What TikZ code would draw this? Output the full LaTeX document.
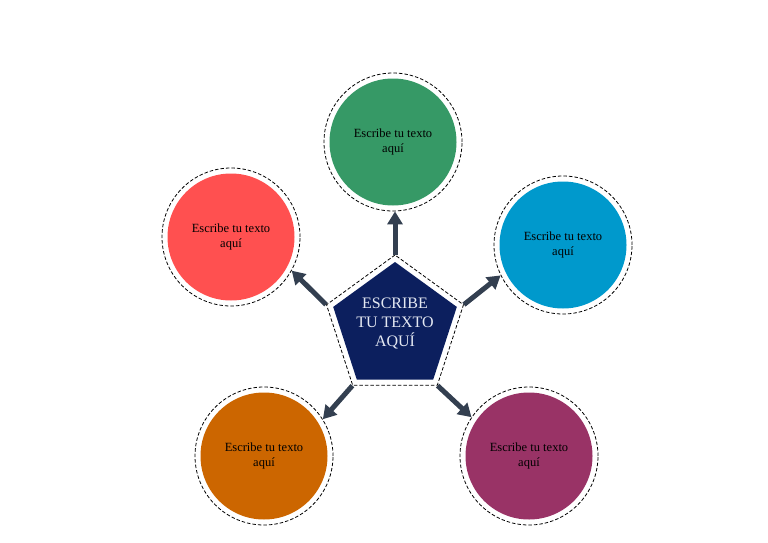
\documentclass[tikz,border=0pt]{standalone}
\usepackage{fontspec}
\setmainfont{Liberation Serif}
\usetikzlibrary{arrows.meta,shapes.geometric}
\definecolor{cgreen}{HTML}{369966}
\definecolor{cred}{HTML}{FF5050}
\definecolor{cblue}{HTML}{0099CC}
\definecolor{corange}{HTML}{CC6600}
\definecolor{cpurple}{HTML}{993366}
\definecolor{cnavy}{HTML}{0C1F5E}
\definecolor{carrow}{HTML}{333F50}
\definecolor{ctext}{HTML}{E4E8F2}
\tikzset{
  disc/.style={circle,minimum size=127pt,inner sep=0pt,draw=none,
    align=center,font=\fontsize{12.5}{14.5}\selectfont,text=black},
  ring/.style={circle,minimum size=138pt,inner sep=0pt,draw=black,
    line width=0.8pt,dash pattern=on 3.5pt off 2pt},
  pentring/.style={regular polygon,regular polygon sides=5,minimum size=144pt,
    inner sep=0pt,draw=black,line width=0.8pt,dash pattern=on 3.5pt off 2pt},
  pentfill/.style={regular polygon,regular polygon sides=5,minimum size=130pt,
    inner sep=0pt,fill=cnavy,draw=none},
  conn/.style={carrow,line width=5pt,-{Triangle[length=13pt,width=15pt]}},
}
\begin{document}
\begin{tikzpicture}[x=1pt,y=-1pt]
\useasboundingbox (0,0) rectangle (768,543);
% pentagon
\node[pentring] (pento) at (395,327) {};
\node[pentfill] (pent) at (395,327) {};
\node[align=center,text=ctext,font=\fontsize{16}{19}\selectfont] (ctxt) at (395,323) {ESCRIBE\\TU TEXTO\\AQUÍ};
% circles
\node[ring] (greeno) at (393,142) {};
\node[disc,fill=cgreen] (green) at (393,142) {Escribe tu texto\\aquí};
\node[ring] (redo) at (231,237) {};
\node[disc,fill=cred] (red) at (231,237) {Escribe tu texto\\aquí};
\node[ring] (blueo) at (563,245) {};
\node[disc,fill=cblue] (blue) at (563,245) {Escribe tu texto\\aquí};
\node[ring] (orangeo) at (264,456) {};
\node[disc,fill=corange] (orange) at (264,456) {Escribe tu texto\\aquí};
\node[ring] (purpleo) at (529,456) {};
\node[disc,fill=cpurple] (purple) at (529,456) {Escribe tu texto\\aquí};
% connectors
\draw[conn] (pento.corner 1) -- (pento.corner 1 |- greeno.south);
\draw[conn] (pento.corner 2) -- (redo.-29);
\draw[conn] (pento.corner 5) -- (blueo.206);
\draw[conn] (pento.corner 3) -- (orangeo.32);
\draw[conn] (pento.corner 4) -- (purpleo.146);
\end{tikzpicture}
\end{document}
